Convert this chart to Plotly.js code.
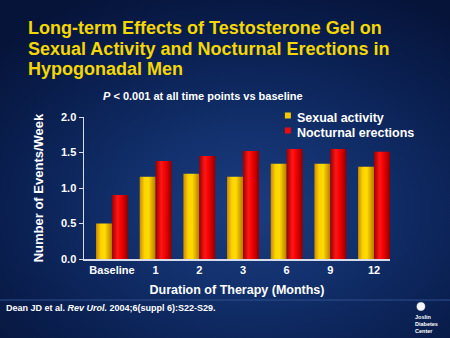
<!DOCTYPE html>
<html>
<head>
<meta charset="utf-8">
<script src="https://cdn.plot.ly/plotly-3.0.1.min.js"></script>
<style>
  html, body { margin:0; padding:0; }
  body { width:450px; height:338px; overflow:hidden;
    background: radial-gradient(ellipse 75% 70% at 55% 62%, #1c3c80 0%, #12306c 35%, #0b2255 65%, #06143a 100%); }
  #chart { width:450px; height:338px; }
</style>
</head>
<body>
<div id="chart"></div>
<script>
const categories = ["Baseline", "1", "2", "3", "6", "9", "12"];
const sexualActivity = [0.50, 1.16, 1.20, 1.16, 1.34, 1.34, 1.30];
const nocturnalErections = [0.90, 1.38, 1.45, 1.52, 1.55, 1.55, 1.51];
const seriesNames = ["Sexual activity", "Nocturnal erections"];
const yTicks = [0, 0.5, 1.0, 1.5, 2.0];
const yTickText = ["0.0", "0.5", "1.0", "1.5", "2.0"];
const titleLines = ["Long-term Effects of Testosterone Gel on", "Sexual Activity and Nocturnal Erections in", "Hypogonadal Men"];

const F = "Liberation Sans, Arial, sans-serif";

const traces = [
  { type: "bar", name: seriesNames[0], x: categories, y: sexualActivity,
    marker: { color: "#f5c800", line: { width: 0 } }, hoverinfo: "none" },
  { type: "bar", name: seriesNames[1], x: categories, y: nocturnalErections,
    marker: { color: "#ee0a0a", line: { width: 0 } }, hoverinfo: "none" }
];

const titleY = [1.627, 1.481, 1.340];
const annotations = titleLines.map(function (t, i) {
  return { xref: "paper", yref: "paper", x: -0.19, y: titleY[i], xanchor: "left", yanchor: "middle",
    showarrow: false, text: t, font: { family: F, size: 18, color: "#f4d700", weight: "bold" } };
});
annotations.push(
  { xref: "paper", yref: "paper", x: 0.056, y: 1.148, xanchor: "left", yanchor: "middle",
    showarrow: false,
    text: "<i>P</i> < 0.001 at all time points vs baseline",
    font: { family: F, size: 11, color: "#ffffff", weight: "bold" } },
  { xref: "paper", yref: "paper", x: -0.26, y: -0.345, xanchor: "left", yanchor: "middle",
    showarrow: false,
    text: "Dean JD et al. <i>Rev Urol.</i> 2004;6(suppl 6):S22-S29.",
    font: { family: F, size: 9, color: "#ffffff", weight: "bold" } },
  { xref: "paper", yref: "paper", x: 1.074, y: -0.37, xanchor: "left", yanchor: "top", align: "left",
    showarrow: false,
    text: "Joslin<br>Diabetes<br>Center",
    font: { family: F, size: 5.5, color: "#ffffff", weight: "bold" } }
);

const layout = {
  width: 450, height: 338,
  paper_bgcolor: "rgba(0,0,0,0)", plot_bgcolor: "rgba(0,0,0,0)",
  margin: { l: 84, r: 60, t: 117, b: 79 },
  barmode: "group", bargap: 0.27, bargroupgap: 0,
  font: { family: F, color: "#ffffff" },
  showlegend: true,
  legend: { x: 0.565, y: 1.10, xanchor: "left", yanchor: "top",
    bgcolor: "rgba(0,0,0,0)", font: { family: F, size: 12.5, color: "#ffffff", weight: "bold" },
    tracegroupgap: 0, itemwidth: 30, itemclick: false },
  xaxis: {
    type: "category", range: [-0.641, 6.366],
    showline: true, linecolor: "#d8dce8", linewidth: 1.5,
    ticks: "", showgrid: false, zeroline: false,
    tickfont: { family: F, size: 11, color: "#ffffff", weight: "bold" },
    title: { text: "Duration of Therapy (Months)", standoff: 10,
      font: { family: F, size: 12.5, color: "#ffffff", weight: "bold" } }
  },
  yaxis: {
    range: [0, 2.0], tickvals: yTicks, ticktext: yTickText,
    showline: true, linecolor: "#d8dce8", linewidth: 1.5,
    ticks: "outside", ticklen: 4, tickcolor: "#d8dce8", tickwidth: 1,
    showgrid: false, zeroline: false,
    tickfont: { family: F, size: 11, color: "#ffffff", weight: "bold" },
    title: { text: "Number of Events/Week", standoff: 14,
      font: { family: F, size: 13, color: "#ffffff", weight: "bold" } }
  },
  annotations: annotations,
  shapes: [
    { type: "line", xref: "paper", yref: "paper", x0: -0.3, x1: 1.25, y0: -0.289, y1: -0.289,
      line: { color: "#2f4f8f", width: 1 } },
    { type: "circle", xref: "paper", yref: "paper", x0: 1.088, x1: 1.114, y0: -0.306, y1: -0.363,
      fillcolor: "#f4f6fa", line: { color: "#ffffff", width: 0.5 } },
    { type: "path", xref: "paper", yref: "paper",
      path: "M 1.101 -0.3345 L 1.101 -0.363 A 0.013 0.0285 0 0 0 1.114 -0.3345 Z",
      fillcolor: "#3a5590", line: { width: 0 } }
  ]
};

Plotly.newPlot("chart", traces, layout, { staticPlot: true, displayModeBar: false }).then(function (gd) {
  const svg = gd.querySelector("svg.main-svg");
  const ns = "http://www.w3.org/2000/svg";
  let defs = svg.querySelector("defs");
  if (!defs) { defs = document.createElementNS(ns, "defs"); svg.insertBefore(defs, svg.firstChild); }
  function grad(id, stops) {
    const g = document.createElementNS(ns, "linearGradient");
    g.setAttribute("id", id);
    g.setAttribute("x1", "0"); g.setAttribute("x2", "1"); g.setAttribute("y1", "0"); g.setAttribute("y2", "0");
    stops.forEach(function (s) {
      const st = document.createElementNS(ns, "stop");
      st.setAttribute("offset", s[0]); st.setAttribute("stop-color", s[1]);
      g.appendChild(st);
    });
    defs.appendChild(g);
  }
  grad("gYel", [["0", "#c98c00"], ["0.3", "#ffd200"], ["0.55", "#ffdc00"], ["1", "#b57a00"]]);
  grad("gRed", [["0", "#9c0000"], ["0.35", "#ff1616"], ["0.6", "#f20000"], ["1", "#8e0000"]]);
  gd.querySelectorAll(".barlayer .trace").forEach(function (t, i) {
    t.querySelectorAll("path").forEach(function (p) {
      p.style.fill = "url(#" + (i === 0 ? "gYel" : "gRed") + ")";
    });
  });
  // compact legend: small square markers close to text, tighter rows
  const items = gd.querySelectorAll(".legend .traces");
  let y0 = null;
  items.forEach(function (it, i) {
    const m = /translate\(([-\d.]+),\s*([-\d.]+)\)/.exec(it.getAttribute("transform") || "");
    if (m) {
      if (y0 === null) y0 = parseFloat(m[2]);
      it.setAttribute("transform", "translate(" + m[1] + "," + (y0 + i * 15) + ")");
    }
    it.querySelectorAll(".legendpoints path").forEach(function (p) {
      p.setAttribute("d", "M3,3H-3V-3H3Z");
      p.setAttribute("transform", "translate(31,-2)");
      p.style.strokeWidth = "0";
    });
  });
});
</script>
</body>
</html>
